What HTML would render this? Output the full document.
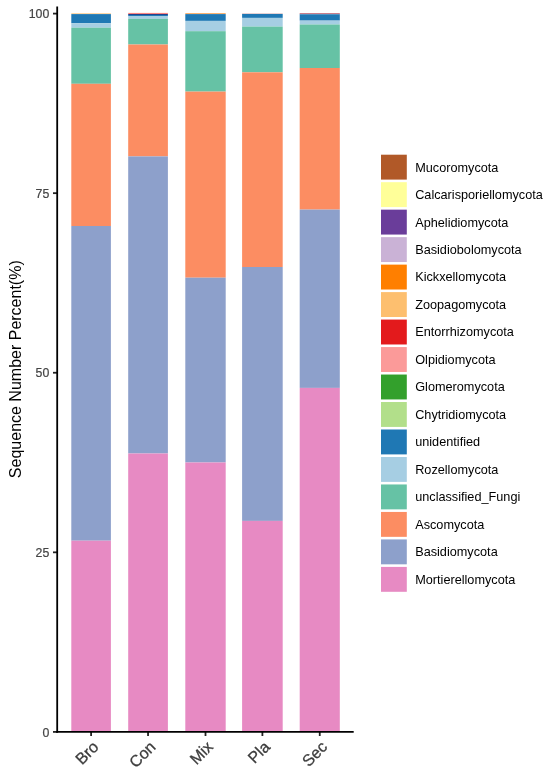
<!DOCTYPE html>
<html><head><meta charset="utf-8"><style>
html,body{margin:0;padding:0;background:#fff;}
svg{display:block;will-change:transform;font-family:"Liberation Sans",sans-serif;}
</style></head><body>
<svg width="550" height="773" viewBox="0 0 550 773">
<rect x="0" y="0" width="550" height="773" fill="#fff"/>
<rect x="71.3" y="13.4" width="39.60" height="0.70" fill="#FDBF6F"/>
<rect x="71.3" y="14.1" width="39.60" height="9.10" fill="#1F78B4"/>
<rect x="71.3" y="23.2" width="39.60" height="4.50" fill="#A6CEE3"/>
<rect x="71.3" y="27.7" width="39.60" height="56.10" fill="#66C2A5"/>
<rect x="71.3" y="83.8" width="39.60" height="142.20" fill="#FC8D62"/>
<rect x="71.3" y="226.0" width="39.60" height="314.70" fill="#8DA0CB"/>
<rect x="71.3" y="540.7" width="39.60" height="191.30" fill="#E78AC3"/>
<rect x="128.2" y="12.9" width="39.70" height="1.10" fill="#F8837F"/>
<rect x="128.2" y="14.0" width="39.70" height="1.00" fill="#27408B"/>
<rect x="128.2" y="15.0" width="39.70" height="1.00" fill="#1F78B4"/>
<rect x="128.2" y="16.0" width="39.70" height="2.90" fill="#A6CEE3"/>
<rect x="128.2" y="18.9" width="39.70" height="25.60" fill="#66C2A5"/>
<rect x="128.2" y="44.5" width="39.70" height="111.90" fill="#FC8D62"/>
<rect x="128.2" y="156.4" width="39.70" height="297.10" fill="#8DA0CB"/>
<rect x="128.2" y="453.5" width="39.70" height="278.50" fill="#E78AC3"/>
<rect x="185.3" y="13.2" width="40.40" height="0.90" fill="#F9A04E"/>
<rect x="185.3" y="14.1" width="40.40" height="6.80" fill="#1F78B4"/>
<rect x="185.3" y="20.9" width="40.40" height="10.30" fill="#A6CEE3"/>
<rect x="185.3" y="31.2" width="40.40" height="60.40" fill="#66C2A5"/>
<rect x="185.3" y="91.6" width="40.40" height="186.10" fill="#FC8D62"/>
<rect x="185.3" y="277.7" width="40.40" height="184.80" fill="#8DA0CB"/>
<rect x="185.3" y="462.5" width="40.40" height="269.50" fill="#E78AC3"/>
<rect x="242.1" y="13.5" width="40.60" height="0.40" fill="#F4A6A0"/>
<rect x="242.1" y="13.9" width="40.60" height="4.00" fill="#1F78B4"/>
<rect x="242.1" y="17.9" width="40.60" height="8.70" fill="#A6CEE3"/>
<rect x="242.1" y="26.6" width="40.60" height="45.70" fill="#66C2A5"/>
<rect x="242.1" y="72.3" width="40.60" height="194.70" fill="#FC8D62"/>
<rect x="242.1" y="267.0" width="40.60" height="253.90" fill="#8DA0CB"/>
<rect x="242.1" y="520.9" width="40.60" height="211.10" fill="#E78AC3"/>
<rect x="299.7" y="13.0" width="40.10" height="0.80" fill="#F26B6B"/>
<rect x="299.7" y="13.8" width="40.10" height="0.70" fill="#1F5FA0"/>
<rect x="299.7" y="14.5" width="40.10" height="6.10" fill="#1F78B4"/>
<rect x="299.7" y="20.6" width="40.10" height="3.90" fill="#A6CEE3"/>
<rect x="299.7" y="24.5" width="40.10" height="43.50" fill="#66C2A5"/>
<rect x="299.7" y="68.0" width="40.10" height="141.60" fill="#FC8D62"/>
<rect x="299.7" y="209.6" width="40.10" height="178.30" fill="#8DA0CB"/>
<rect x="299.7" y="387.9" width="40.10" height="344.10" fill="#E78AC3"/>
<line x1="53" y1="731.90" x2="57.2" y2="731.90" stroke="#222" stroke-width="1.8"/>
<text x="49.3" y="736.50" text-anchor="end" font-size="12.3" fill="#444" stroke="#444" stroke-width="0.2">0</text>
<line x1="53" y1="552.33" x2="57.2" y2="552.33" stroke="#222" stroke-width="1.8"/>
<text x="49.3" y="556.93" text-anchor="end" font-size="12.3" fill="#444" stroke="#444" stroke-width="0.2">25</text>
<line x1="53" y1="372.75" x2="57.2" y2="372.75" stroke="#222" stroke-width="1.8"/>
<text x="49.3" y="377.35" text-anchor="end" font-size="12.3" fill="#444" stroke="#444" stroke-width="0.2">50</text>
<line x1="53" y1="193.17" x2="57.2" y2="193.17" stroke="#222" stroke-width="1.8"/>
<text x="49.3" y="197.77" text-anchor="end" font-size="12.3" fill="#444" stroke="#444" stroke-width="0.2">75</text>
<line x1="53" y1="13.60" x2="57.2" y2="13.60" stroke="#222" stroke-width="1.8"/>
<text x="49.3" y="18.20" text-anchor="end" font-size="12.3" fill="#444" stroke="#444" stroke-width="0.2">100</text>
<line x1="91.10" y1="731.9" x2="91.10" y2="736" stroke="#222" stroke-width="1.8"/>
<text transform="translate(91.70,740.0) rotate(-45)" text-anchor="end" dominant-baseline="hanging" font-size="16" fill="#3d3d3d" stroke="#3d3d3d" stroke-width="0.3">Bro</text>
<line x1="148.05" y1="731.9" x2="148.05" y2="736" stroke="#222" stroke-width="1.8"/>
<text transform="translate(148.65,740.0) rotate(-45)" text-anchor="end" dominant-baseline="hanging" font-size="16" fill="#3d3d3d" stroke="#3d3d3d" stroke-width="0.3">Con</text>
<line x1="205.50" y1="731.9" x2="205.50" y2="736" stroke="#222" stroke-width="1.8"/>
<text transform="translate(206.10,740.0) rotate(-45)" text-anchor="end" dominant-baseline="hanging" font-size="16" fill="#3d3d3d" stroke="#3d3d3d" stroke-width="0.3">Mix</text>
<line x1="262.40" y1="731.9" x2="262.40" y2="736" stroke="#222" stroke-width="1.8"/>
<text transform="translate(263.00,740.0) rotate(-45)" text-anchor="end" dominant-baseline="hanging" font-size="16" fill="#3d3d3d" stroke="#3d3d3d" stroke-width="0.3">Pla</text>
<line x1="319.75" y1="731.9" x2="319.75" y2="736" stroke="#222" stroke-width="1.8"/>
<text transform="translate(320.35,740.0) rotate(-45)" text-anchor="end" dominant-baseline="hanging" font-size="16" fill="#3d3d3d" stroke="#3d3d3d" stroke-width="0.3">Sec</text>
<line x1="57.2" y1="6.6" x2="57.2" y2="732.8" stroke="#000" stroke-width="1.8"/>
<line x1="56.300000000000004" y1="731.9" x2="353.7" y2="731.9" stroke="#000" stroke-width="1.8"/>
<text transform="translate(20.6,369.2) rotate(-90)" text-anchor="middle" font-size="16" fill="#000">Sequence Number Percent(%)</text>
<rect x="381" y="154.70" width="25.8" height="24.9" fill="#B15928"/>
<text x="415.2" y="171.55" font-size="12.7" fill="#000">Mucoromycota</text>
<rect x="381" y="182.18" width="25.8" height="24.9" fill="#FFFF99"/>
<text x="415.2" y="199.03" font-size="12.7" fill="#000">Calcarisporiellomycota</text>
<rect x="381" y="209.66" width="25.8" height="24.9" fill="#6A3D9A"/>
<text x="415.2" y="226.51" font-size="12.7" fill="#000">Aphelidiomycota</text>
<rect x="381" y="237.14" width="25.8" height="24.9" fill="#CAB2D6"/>
<text x="415.2" y="253.99" font-size="12.7" fill="#000">Basidiobolomycota</text>
<rect x="381" y="264.62" width="25.8" height="24.9" fill="#FF7F00"/>
<text x="415.2" y="281.47" font-size="12.7" fill="#000">Kickxellomycota</text>
<rect x="381" y="292.10" width="25.8" height="24.9" fill="#FDBF6F"/>
<text x="415.2" y="308.95" font-size="12.7" fill="#000">Zoopagomycota</text>
<rect x="381" y="319.58" width="25.8" height="24.9" fill="#E31A1C"/>
<text x="415.2" y="336.43" font-size="12.7" fill="#000">Entorrhizomycota</text>
<rect x="381" y="347.06" width="25.8" height="24.9" fill="#FB9A99"/>
<text x="415.2" y="363.91" font-size="12.7" fill="#000">Olpidiomycota</text>
<rect x="381" y="374.54" width="25.8" height="24.9" fill="#33A02C"/>
<text x="415.2" y="391.39" font-size="12.7" fill="#000">Glomeromycota</text>
<rect x="381" y="402.02" width="25.8" height="24.9" fill="#B2DF8A"/>
<text x="415.2" y="418.87" font-size="12.7" fill="#000">Chytridiomycota</text>
<rect x="381" y="429.50" width="25.8" height="24.9" fill="#1F78B4"/>
<text x="415.2" y="446.35" font-size="12.7" fill="#000">unidentified</text>
<rect x="381" y="456.98" width="25.8" height="24.9" fill="#A6CEE3"/>
<text x="415.2" y="473.83" font-size="12.7" fill="#000">Rozellomycota</text>
<rect x="381" y="484.46" width="25.8" height="24.9" fill="#66C2A5"/>
<text x="415.2" y="501.31" font-size="12.7" fill="#000">unclassified_Fungi</text>
<rect x="381" y="511.94" width="25.8" height="24.9" fill="#FC8D62"/>
<text x="415.2" y="528.79" font-size="12.7" fill="#000">Ascomycota</text>
<rect x="381" y="539.42" width="25.8" height="24.9" fill="#8DA0CB"/>
<text x="415.2" y="556.27" font-size="12.7" fill="#000">Basidiomycota</text>
<rect x="381" y="566.90" width="25.8" height="24.9" fill="#E78AC3"/>
<text x="415.2" y="583.75" font-size="12.7" fill="#000">Mortierellomycota</text>
</svg>
</body></html>
